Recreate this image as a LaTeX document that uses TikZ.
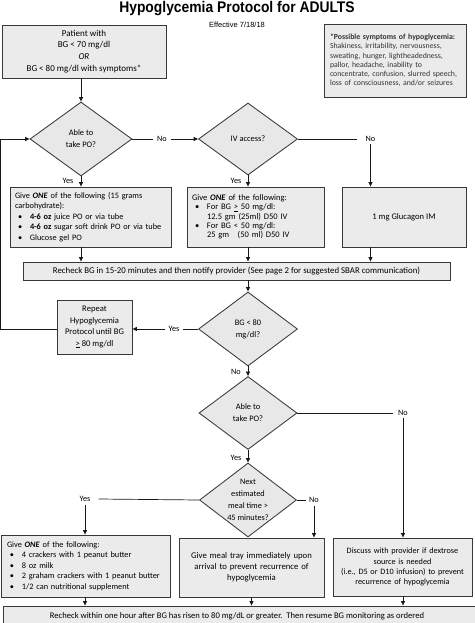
\documentclass[tikz,border=0pt]{standalone}
\usepackage{fontspec}
\usepackage{graphicx}
\setmainfont{Carlito}
\newfontfamily\titlefont{Liberation Sans}
\usetikzlibrary{arrows.meta,shapes.geometric}
\newcommand\bu{\makebox[15pt][l]{\hspace{3pt}\textbullet}}
\begin{document}
\begin{tikzpicture}[x=1pt,y=-1pt,
  bx/.style={draw=black!78, fill=black!8, line width=0.85pt, inner sep=0pt, text=black,
    font=\fontsize{8.6}{10.5}\selectfont},
  dm/.style={diamond, draw=black!78, fill=black!9, line width=0.85pt, inner sep=0pt},
  dtext/.style={align=center, font=\fontsize{8.4}{12}\selectfont, text=black},
  lbl/.style={font=\fontsize{8.2}{9}\selectfont, inner xsep=4pt, inner ysep=2pt, text=black},
  arr/.style={-{Triangle[length=4.5pt,width=4pt]}, line width=0.7pt, draw=black!90},
  ln/.style={line width=0.7pt, draw=black!90}]
\useasboundingbox (0,0) rectangle (474,623);
% title
\node[anchor=base, inner sep=0pt, font=\titlefont\bfseries\fontsize{15.4}{16}\selectfont] (title) at (237,13) {\scalebox{0.9}[1]{Hypoglycemia Protocol for ADULTS}};
\node[anchor=base, inner sep=0pt, font=\titlefont\fontsize{7.5}{8}\selectfont] (eff) at (237,27.5) {Effective 7/18/18};
% boxes
\node[bx, minimum width=164pt, minimum height=53pt, align=center, font=\fontsize{9}{11.8}\selectfont] (P) at (84,51.5)
  {Patient with\\BG < 70 mg/dl\\\textit{OR}\\BG < 80 mg/dl with symptoms*};
\node[bx, minimum width=142pt, minimum height=73pt, text width=134pt, inner xsep=4pt, align=left, text=black!80,
  font=\fontsize{7.8}{9.2}\selectfont] (S) at (395,60.5)
  {\hspace*{2pt}\textbf{*Possible symptoms of hypoglycemia:}\\\hspace*{2pt}Shakiness, irritability, nervousness,\\\hspace*{2pt}sweating, hunger, lightheadedness,\\\hspace*{2pt}pallor, headache, inability to\\\hspace*{2pt}concentrate, confusion, slurred speech,\\\hspace*{2pt}loss of consciousness, and/or seizures};
\node[dm, minimum width=102pt, minimum height=74pt, label={[dtext]center:Able to\\take PO?}] (d1) at (81,139) {};
\node[dm, minimum width=99pt, minimum height=72pt, label={[dtext]center:IV access?}] (d2) at (248,139) {};
\node[bx, minimum width=161pt, minimum height=60pt, text width=155pt, inner xsep=3pt, align=left,
  font=\fontsize{8.3}{10.5}\selectfont] (A) at (90.5,217)
  {\hspace*{2pt}Give \textbf{\textit{ONE}} of the following (15 grams\\\hspace*{2pt}carbohydrate):\\\hspace*{2pt}\bu\textbf{4-6 oz} juice PO or via tube\\\hspace*{2pt}\bu\textbf{4-6 oz} sugar soft drink PO or via tube\\\hspace*{2pt}\bu Glucose gel PO};
\node[bx, minimum width=137pt, minimum height=60pt, text width=129pt, inner xsep=4pt, align=left,
  font=\fontsize{8.5}{9.3}\selectfont] (B) at (255.5,217)
  {\hspace*{1pt}Give \textbf{\textit{ONE}} of the following:\\\hspace*{1pt}\bu For BG \underline{>} 50 mg/dl:\\\hspace*{16pt}12.5 gm (25ml) D50 IV\\\hspace*{1pt}\bu For BG < 50 mg/dl:\\\hspace*{16pt}25 gm\ \ \ (50 ml) D50 IV};
\node[bx, minimum width=124pt, minimum height=60pt] (C) at (404,217) {1 mg Glucagon IM};
\node[bx, minimum width=427pt, minimum height=18pt, font=\fontsize{8.8}{10}\selectfont] (R1) at (236.5,271)
  {Recheck BG in 15-20 minutes and then notify provider (See page 2 for suggested SBAR communication)};
\node[dm, minimum width=99pt, minimum height=74pt, label={[dtext]center:BG < 80\\mg/dl?}] (d3) at (248,329) {};
\node[bx, minimum width=75pt, minimum height=54pt, align=center, font=\fontsize{8.6}{11.5}\selectfont] (Rep) at (94.5,327)
  {Repeat\\Hypoglycemia\\Protocol until BG\\\underline{>} 80 mg/dl};
\node[dm, minimum width=98pt, minimum height=73pt, label={[dtext]center:Able to\\take PO?}] (d4) at (248,413) {};
\node[dm, minimum width=97pt, minimum height=74pt, label={[dtext, font=\fontsize{8.3}{12}\selectfont]center:Next\\estimated\\meal time >\\45 minutes?}] (d5) at (248,500) {};
\node[bx, minimum width=169pt, minimum height=62pt, text width=161pt, inner xsep=4pt, align=left,
  font=\fontsize{8.3}{10.5}\selectfont] (D) at (85.5,566)
  {\hspace*{2pt}Give \textbf{\textit{ONE}} of the following:\\\hspace*{2pt}\bu 4 crackers with 1 peanut butter\\\hspace*{2pt}\bu 8 oz milk\\\hspace*{2pt}\bu 2 graham crackers with 1 peanut butter\\\hspace*{2pt}\bu 1/2 can nutritional supplement};
\node[bx, minimum width=145pt, minimum height=59pt, text width=139pt, inner xsep=3pt, align=center,
  font=\fontsize{8.7}{11}\selectfont] (E) at (251.5,567.5)
  {Give meal tray immediately upon\\arrival to prevent recurrence of\\hypoglycemia\\[4pt]};
\node[bx, minimum width=139pt, minimum height=58pt, text width=133pt, inner xsep=3pt, align=center,
  font=\fontsize{8.2}{10.3}\selectfont] (F) at (402.5,567)
  {Discuss with provider if dextrose\\source is needed\\(i.e., D5 or D10 infusion) to prevent\\recurrence of hypoglycemia};
\node[bx, minimum width=477pt, minimum height=20pt, font=\fontsize{8.6}{10}\selectfont] (R2) at (241.5,616)
  {\hspace*{-9pt}Recheck within one hour after BG has risen to 80 mg/dL or greater.\ \ Then resume BG monitoring as ordered};
% labels
\node[lbl] (no1) at (162,139) {No};
\node[lbl, inner xsep=8pt] (no2) at (370.5,139) {No};
\node[lbl, inner xsep=1pt] (yes1) at (68,181) {Yes};
\node[lbl, inner xsep=1pt] (yes2) at (236,181) {Yes};
\node[lbl, inner xsep=3pt] (yes3) at (174,329) {Yes};
\node[lbl, inner xsep=1pt] (no3) at (236,372) {No};
\node[lbl, inner xsep=5pt] (no4) at (403,413) {No};
\node[lbl, inner xsep=1pt] (yes4) at (236,458) {Yes};
\node[lbl, inner xsep=8pt, inner ysep=3pt] (yes5) at (85,499) {Yes};
\node[lbl, inner xsep=3pt, inner ysep=3pt] (no5) at (314,500) {No};
\coordinate (lft) at (0,329);
% connectors
\draw[arr] (P.south -| d1.north) -- (d1.north);
\draw[ln] (d1.east) -- (no1.west);
\draw[arr] (no1.east) -- (d2.west);
\draw[arr] (d1.south) -- (A.north -| d1.south);
\draw[arr] (d2.south) -- (B.north -| d2.south);
\draw[ln] (d2.east) -- (no2.west);
\draw[arr] (no2.south) -- (no2.south |- C.north);
\draw[arr] (A.south -| d1.south) -- (R1.north -| d1.south);
\draw[arr] (B.south -| d2.south) -- (R1.north -| d2.south);
\draw[arr] (C.south -| no2.south) -- (R1.north -| no2.south);
\draw[arr] (R1.south -| d3.north) -- (d3.north);
\draw[ln] (d3.west) -- (yes3.east);
\draw[arr] (yes3.west) -- (Rep.east |- d3.west);
\draw[arr] (Rep.west |- d3.west) -- (lft) |- (d1.west);
\draw[arr] (d3.south) -- (d4.north);
\draw[ln] (d4.east) -- (no4.west);
\draw[arr] (no4.south) -- (no4.south |- F.north);
\draw[arr] (d4.south) -- (d5.north);
\draw[ln] (d5.west) -- (yes5.east);
\draw[arr] (yes5.south) -- (yes5.south |- D.north);
\draw[ln] (d5.east) -- (no5.west);
\draw[arr] (no5.south) -- (no5.south |- E.north);
\draw[arr] (D.south -| yes5.south) -- (R2.north -| yes5.south);
\draw[arr] (E.south) -- (R2.north -| E.south);
\draw[arr] (F.south -| no4.south) -- (R2.north -| no4.south);
\end{tikzpicture}
\end{document}
